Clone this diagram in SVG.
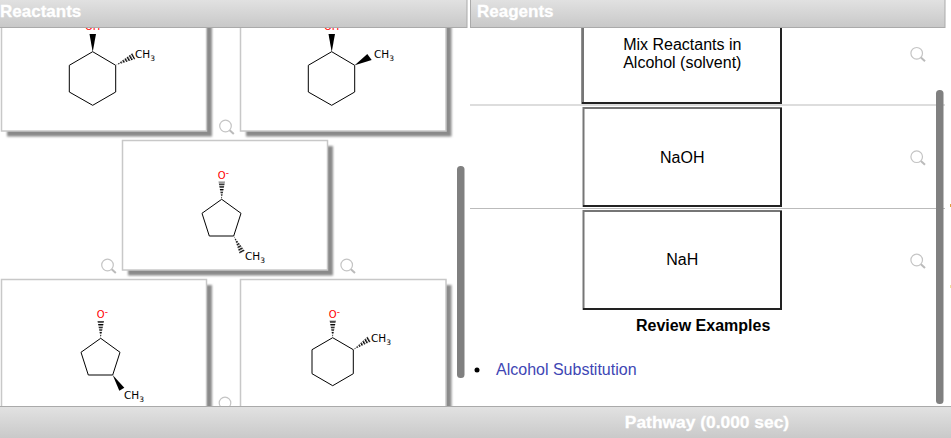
<svg xmlns="http://www.w3.org/2000/svg" width="951" height="438" viewBox="0 0 951 438">
<style>
.card{fill:#fff;stroke:#c8c8c8;stroke-width:1.5}
.shadow{fill:#8a8a8a;filter:url(#soft)}
.ring{fill:none;stroke:#000;stroke-width:1;stroke-linejoin:miter}
.lab{font-family:"DejaVu Sans",sans-serif;font-size:10.500px;fill:#000}
.lab tspan{font-size:7.500px}
.oxy{font-family:"DejaVu Sans",sans-serif;font-size:10px;fill:#f00}
.oxy tspan{font-size:9px}
.head{font-family:"Liberation Sans",Arial,sans-serif;font-size:17px;font-weight:bold;fill:#fff;stroke:#fff;stroke-width:.3}
.body{font-family:"Liberation Sans",Arial,sans-serif;font-size:16px;fill:#000;text-anchor:middle}
.tl{fill:#fff;stroke:#767676;stroke-width:2}
.br{fill:none;stroke:#222;stroke-width:2}
.sep{stroke:#bbb;stroke-width:1}
.bar{fill:url(#grad);stroke:#aaa;stroke-width:1}
.scroll{fill:#808080}
</style>
<defs>
<filter id="soft" x="-5%" y="-5%" width="110%" height="110%"><feGaussianBlur stdDeviation="1"/></filter>
<linearGradient id="grad" x1="0" y1="0" x2="0" y2="1"><stop offset="0" stop-color="#e2e2e2"/><stop offset="1" stop-color="#c8c8c8"/></linearGradient>
<pattern id="hV" width="10" height="2.7" patternUnits="userSpaceOnUse"><rect width="10" height="1.4" fill="#000"/></pattern>
<pattern id="hA" width="2.7" height="10" patternUnits="userSpaceOnUse" patternTransform="rotate(-30)"><rect width="1.4" height="10" fill="#000"/></pattern>
<pattern id="hB" width="2.7" height="10" patternUnits="userSpaceOnUse" patternTransform="rotate(62)"><rect width="1.4" height="10" fill="#000"/></pattern>
<g id="mag"><circle cx="0" cy="0" r="5.800" fill="#fff" stroke="#c4c4c4" stroke-width="1.200"/><line x1="4.200" y1="4.200" x2="8.300" y2="8" stroke="#bbb" stroke-width="2"/></g>
</defs>

<g id="reactant-1">
<rect class="shadow" x="7" y="20" width="205" height="116.500"/>
<rect class="card" x="1.500" y="10" width="205" height="121"/>
<text class="oxy" x="85" y="30">OH</text>
<polygon points="92.700,52 89.500,34 96,34" fill="#000"/>
<polygon class="ring" points="92.700,51.700 115.700,65.300 115.700,92 92.700,105.300 69.300,92 69.300,65.300"/>
<polygon points="115.700,65.300 132.600,53.100 135.400,58.900" fill="url(#hA)"/>
<text class="lab" x="135" y="57.500">CH<tspan dy="3">3</tspan></text>
</g>

<g id="reactant-2">
<rect class="shadow" x="246" y="20" width="205.500" height="116.500"/>
<rect class="card" x="240.500" y="10" width="205.500" height="121"/>
<text class="oxy" x="324" y="30">OH</text>
<polygon points="331.700,52 328.500,34 335,34" fill="#000"/>
<polygon class="ring" points="331.700,51.700 354.700,65.300 354.700,92 331.700,105.300 308.300,92 308.300,65.300"/>
<polygon points="354.700,65.300 367.300,54 371.700,60" fill="#000"/>
<text class="lab" x="374" y="57.500">CH<tspan dy="3">3</tspan></text>
</g>

<g id="reactant-3">
<rect class="shadow" x="128" y="146" width="205" height="129.500"/>
<rect class="card" x="122.500" y="140.500" width="205" height="129.500"/>
<text class="oxy" x="217.800" y="179">O<tspan dy="-3">-</tspan></text>
<polygon points="221.700,199.300 218.500,181.700 225,181.700" fill="url(#hV)"/>
<polygon class="ring" points="221.700,199.300 241,213.300 233.700,236 209.300,236 202,213.300"/>
<polygon points="233.700,236 244.900,250.900 239.700,253.700" fill="url(#hB)"/>
<text class="lab" x="245" y="260">CH<tspan dy="3">3</tspan></text>
</g>

<g id="reactant-4">
<rect class="shadow" x="7" y="285" width="205" height="125"/>
<rect class="card" x="1.500" y="279.500" width="205" height="140"/>
<text class="oxy" x="96.800" y="317.700">O<tspan dy="-3">-</tspan></text>
<polygon points="100.700,338.300 97.500,321 104,321" fill="url(#hV)"/>
<polygon class="ring" points="100.700,338.300 120,352.300 112.700,375 88.300,375 81,352.300"/>
<polygon points="112.700,375 119.300,390.700 124.300,387.700" fill="#000"/>
<text class="lab" x="124" y="399">CH<tspan dy="3">3</tspan></text>
</g>

<g id="reactant-5">
<rect class="shadow" x="246" y="285" width="205.500" height="125"/>
<rect class="card" x="240.500" y="279.500" width="205.500" height="140"/>
<text class="oxy" x="328.800" y="317.700">O<tspan dy="-3">-</tspan></text>
<polygon points="332.700,337.700 329.500,320 336,320" fill="url(#hV)"/>
<polygon class="ring" points="332.700,337.700 353.300,349.700 353.300,373.700 332.700,385.700 312,373.700 312,349.700"/>
<polygon points="353.300,349.700 367.600,336.500 371,341.500" fill="url(#hA)"/>
<text class="lab" x="371" y="341.700">CH<tspan dy="3">3</tspan></text>
</g>

<g id="magnifiers">
<use href="#mag" x="225.500" y="126"/>
<use href="#mag" x="107.500" y="265"/>
<use href="#mag" x="346.700" y="265"/>
<use href="#mag" x="225" y="403"/>
<use href="#mag" x="916.700" y="53.300"/>
<use href="#mag" x="916.700" y="156.700"/>
<use href="#mag" x="916.700" y="260"/>
</g>

<g id="connectors">
<line class="sep" x1="470" y1="105" x2="945" y2="105"/>
<line class="sep" x1="470" y1="208.500" x2="945" y2="208.500"/>
</g>

<g id="reagent-mix">
<path class="br" d="M582.500 20V103H781V20"/>
<path d="M583 20V102" fill="none" stroke="#767676" stroke-width="2"/>
<text class="body" x="682.300" y="50">Mix Reactants in</text>
<text class="body" x="682.300" y="68">Alcohol (solvent)</text>
</g>
<g id="reagent-naoh">
<rect class="tl" x="583.500" y="108" width="197.500" height="98"/>
<path class="br" d="M583 206H781V108"/>
<text class="body" x="682.300" y="163">NaOH</text>
</g>
<g id="reagent-nah">
<rect class="tl" x="583.500" y="211" width="197.500" height="98"/>
<path class="br" d="M583 309H781V211"/>
<text class="body" x="682.300" y="265">NaH</text>
</g>

<g id="review">
<text x="636" y="331" style="font-family:'Liberation Sans',Arial,sans-serif;font-size:16px;font-weight:bold;fill:#000">Review Examples</text>
<circle cx="477" cy="370" r="2.500" fill="#000"/>
<text x="496" y="375" style="font-family:'Liberation Sans',Arial,sans-serif;font-size:16px;fill:#4046b4">Alcohol Substitution</text>
</g>

<g id="scrollbars">
<rect class="scroll" x="457" y="166" width="7.500" height="212" rx="3.500"/>
<rect class="scroll" x="936" y="90" width="7.500" height="314" rx="3.500"/>
</g>

<rect x="950" y="204" width="1" height="3" fill="#e0a040"/>
<rect x="950" y="285" width="1" height="3" fill="#f0e0a0"/>

<g id="header-reactants">
<rect class="bar" x="-1" y="-1" width="468" height="28.500"/>
<text class="head" x="0" y="16.500">Reactants</text>
</g>
<g id="header-reagents">
<rect class="bar" x="470.500" y="-1" width="474.500" height="28.500"/>
<text class="head" x="477" y="16.500">Reagents</text>
</g>
<g id="footer-pathway">
<rect class="bar" x="-1" y="406.500" width="953" height="33"/>
<text class="head" x="707" y="428" text-anchor="middle" style="font-size:17.400px">Pathway (0.000 sec)</text>
</g>
</svg>
